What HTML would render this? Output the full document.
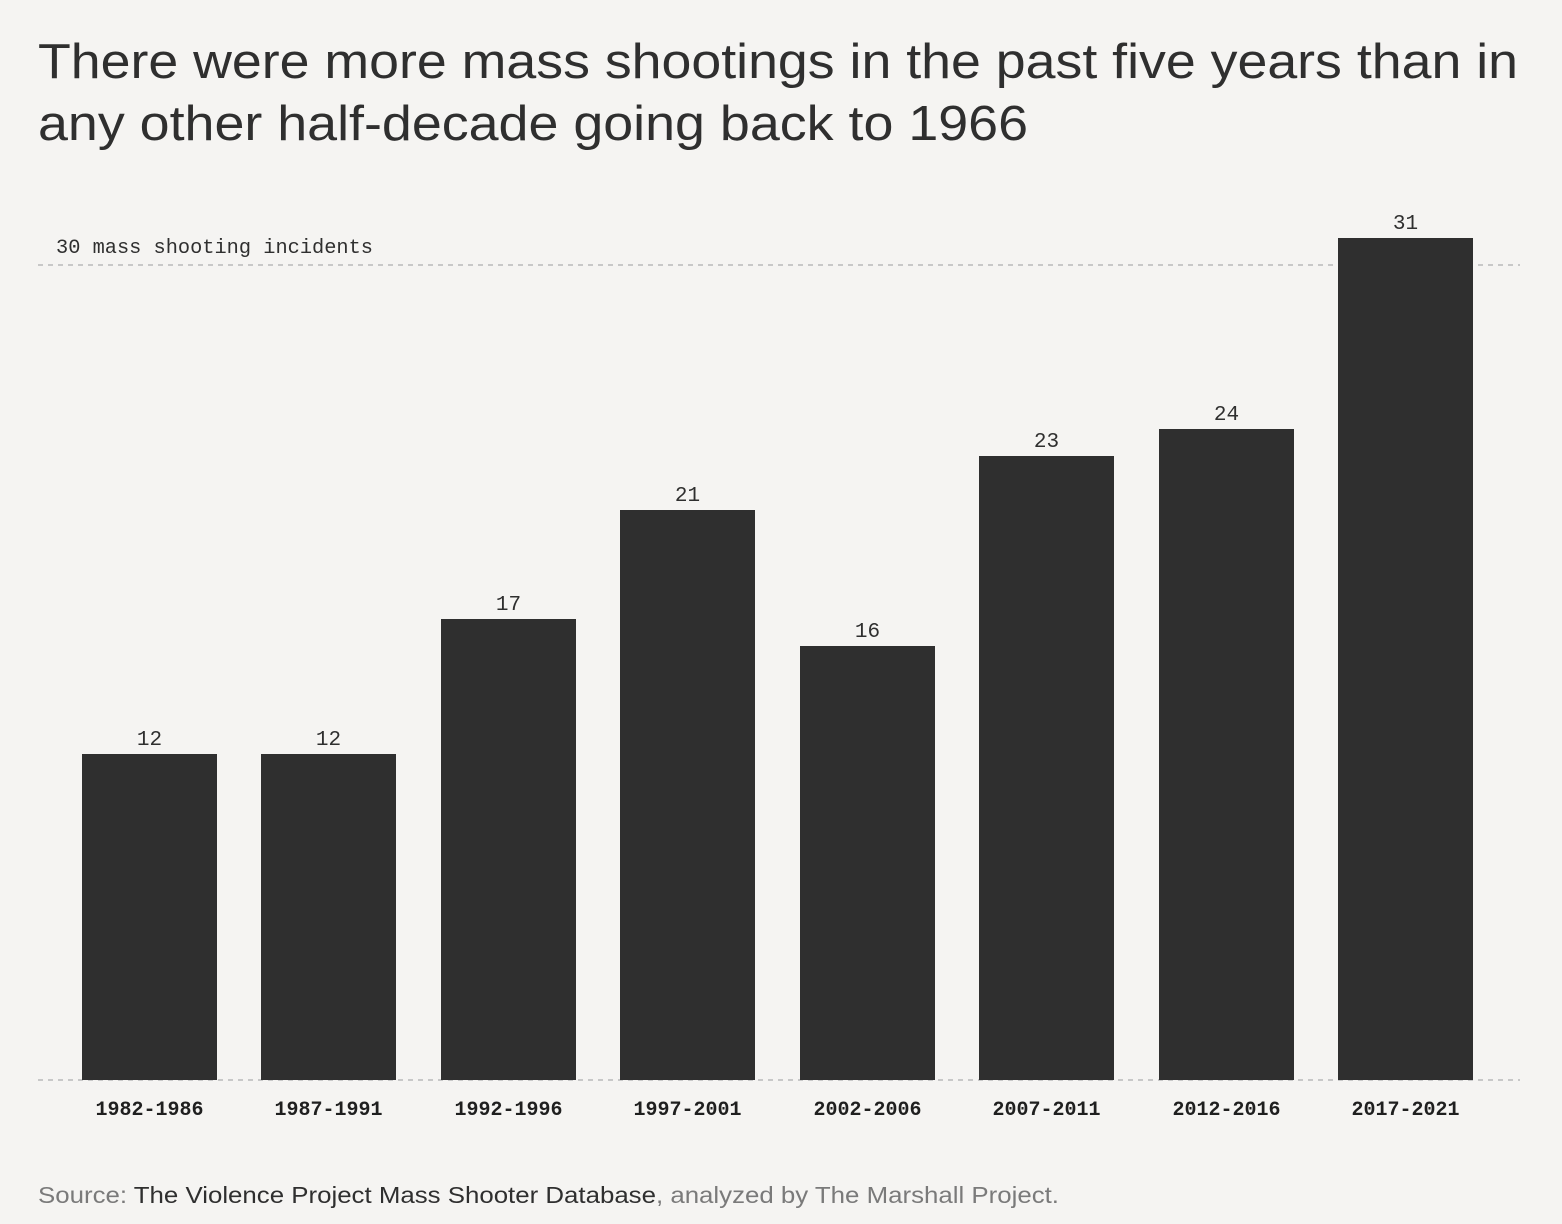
<!DOCTYPE html>
<html><head><meta charset="utf-8"><style>
html,body{margin:0;padding:0;background:#f5f4f2;}
svg{display:block}
</style></head><body>
<svg width="1562" height="1224" xmlns="http://www.w3.org/2000/svg">
<rect width="1562" height="1224" fill="#f5f4f2"/>
<g font-family="Liberation Sans, sans-serif" fill="#2f2f2f" font-size="49">
<text x="38" y="78" textLength="1480" lengthAdjust="spacingAndGlyphs">There were more mass shootings in the past five years than in</text>
<text x="38" y="140" textLength="990" lengthAdjust="spacingAndGlyphs">any other half-decade going back to 1966</text>
</g>
<line x1="38" y1="265" x2="1520" y2="265" stroke="#c8c8c8" stroke-width="2" stroke-dasharray="5,5"/>
<line x1="38" y1="1080" x2="1520" y2="1080" stroke="#c8c8c8" stroke-width="2" stroke-dasharray="5,5"/>
<text x="56" y="253" font-family="Liberation Mono, monospace" font-size="20" fill="#2f2f2f" textLength="317" lengthAdjust="spacingAndGlyphs">30 mass shooting incidents</text>
<g fill="#2f2f2f">
<rect x="82" y="754" width="135" height="326"/>
<rect x="261" y="754" width="135" height="326"/>
<rect x="441" y="619" width="135" height="461"/>
<rect x="620" y="510" width="135" height="570"/>
<rect x="800" y="646" width="135" height="434"/>
<rect x="979" y="456" width="135" height="624"/>
<rect x="1159" y="429" width="135" height="651"/>
<rect x="1338" y="238" width="135" height="842"/>
</g>
<g font-family="Liberation Mono, monospace" font-size="21" fill="#2f2f2f" text-anchor="middle">
<text x="149.5" y="745">12</text>
<text x="328.5" y="745">12</text>
<text x="508.5" y="610">17</text>
<text x="687.5" y="501">21</text>
<text x="867.5" y="637">16</text>
<text x="1046.5" y="447">23</text>
<text x="1226.5" y="420">24</text>
<text x="1405.5" y="229">31</text>
</g>
<g font-family="Liberation Mono, monospace" font-size="20" font-weight="bold" fill="#1f1f1f" text-anchor="middle">
<text x="149.5" y="1115">1982-1986</text>
<text x="328.5" y="1115">1987-1991</text>
<text x="508.5" y="1115">1992-1996</text>
<text x="687.5" y="1115">1997-2001</text>
<text x="867.5" y="1115">2002-2006</text>
<text x="1046.5" y="1115">2007-2011</text>
<text x="1226.5" y="1115">2012-2016</text>
<text x="1405.5" y="1115">2017-2021</text>
</g>
<text x="38" y="1203" font-family="Liberation Sans, sans-serif" font-size="23" fill="#7a7a7a" textLength="1021" lengthAdjust="spacingAndGlyphs">Source: <tspan fill="#2f2f2f">The Violence Project Mass Shooter Database</tspan>, analyzed by The Marshall Project.</text>
</svg>
</body></html>
